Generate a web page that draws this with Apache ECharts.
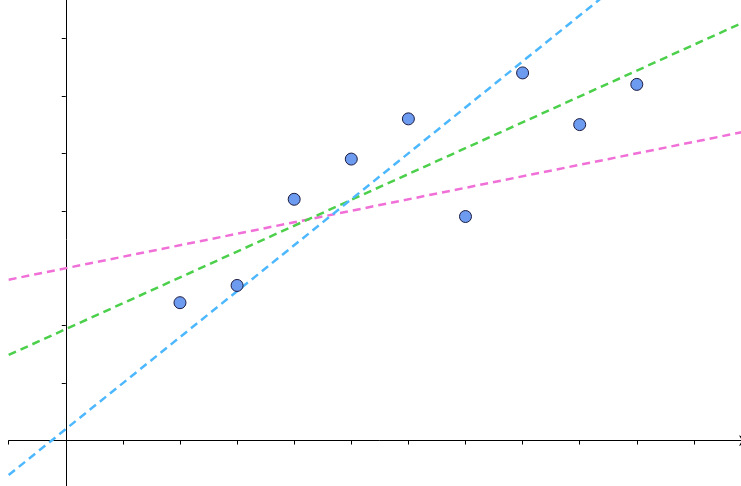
<!DOCTYPE html>
<html><head><meta charset="utf-8">
<script src="https://cdn.jsdelivr.net/npm/echarts@6/dist/echarts.min.js"></script>
<style>html,body{margin:0;padding:0;background:#fff;overflow:hidden}
#wrap{width:741px;height:486px;overflow:hidden;position:relative}
#c{width:777px;height:538px;position:absolute;left:-23px;top:-19px}</style>
</head><body><div id="wrap"><div id="c"></div></div>
<script>
// scatter points
var pointX = [1, 1.5, 2, 2.5, 3, 3.5, 4, 4.5, 5];
var pointY = [1.2, 1.35, 2.1, 2.45, 2.8, 1.95, 3.2, 2.75, 3.1];
// fitted lines, as [x, y] end points
var pinkLine = [[-0.5, 1.4], [6, 2.7]];
var greenLine = [[-0.5, 0.745], [6, 3.67]];
var blueLine = [[-0.5, -0.3], [6, 4.9]];

var chart = echarts.init(document.getElementById('c'));

function axisLbl(v, hide) {
  if (hide.indexOf(v) >= 0) return '';
  return String(v);
}

var option = {
  animation: false,
  grid: { left: 0, right: 0, top: 0, bottom: 0 },
  xAxis: {
    type: 'value', min: -0.5, max: 6, interval: 0.5,
    splitLine: { show: false },
    axisLine: { onZero: true, symbol: ['none', 'arrow'], symbolSize: [8, 12], lineStyle: { color: '#000' } },
    axisTick: { length: 4, lineStyle: { color: '#000' } },
    axisLabel: { color: '#000', fontSize: 13, fontFamily: 'DejaVu Sans', margin: 8,
      formatter: function (v) { return axisLbl(v, [-0.5, 6]); } }
  },
  yAxis: {
    type: 'value', min: -0.5, max: 4, interval: 0.5,
    splitLine: { show: false },
    axisLine: { onZero: true, symbol: ['none', 'arrow'], symbolSize: [8, 12], lineStyle: { color: '#000' } },
    axisTick: { length: 4, lineStyle: { color: '#000' } },
    axisLabel: { color: '#000', fontSize: 13, fontFamily: 'DejaVu Sans', margin: 8,
      formatter: function (v) { return axisLbl(v, [-0.5, 0, 4]); } }
  },
  series: [
    { type: 'line', data: pinkLine, symbol: 'none', lineStyle: { color: '#f070d8', width: 2.5, type: [8, 5] } },
    { type: 'line', data: greenLine, symbol: 'none', lineStyle: { color: '#4cd04c', width: 2.5, type: [8, 5] } },
    { type: 'line', data: blueLine, symbol: 'none', lineStyle: { color: '#4db8ff', width: 2.5, type: [8, 5] } },
    {
      type: 'scatter', symbolSize: 12, z: 5,
      data: pointX.map(function (x, i) { return [x, pointY[i]]; }),
      itemStyle: { color: '#6d9bf0', borderColor: '#1a1a40', borderWidth: 1, opacity: 1 }
    }
  ]
};
chart.setOption(option);
</script></body></html>
